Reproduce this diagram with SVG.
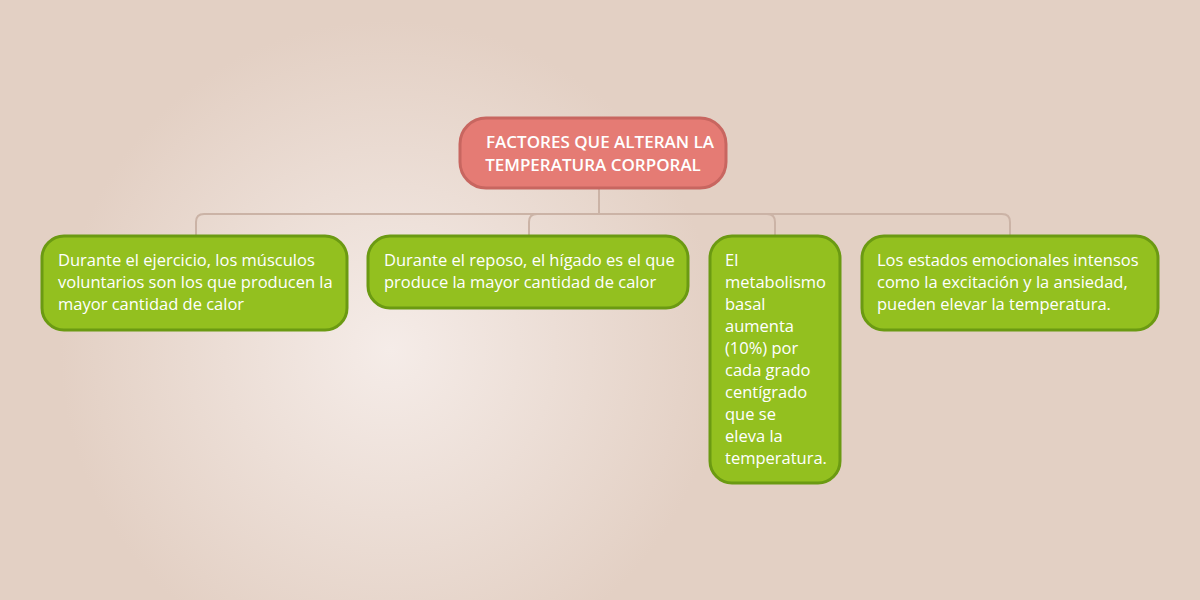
<svg xmlns="http://www.w3.org/2000/svg" width="1200" height="600" viewBox="0 0 1200 600">
<defs>
<radialGradient id="bg" cx="390" cy="350" r="330" gradientUnits="userSpaceOnUse">
<stop offset="0" stop-color="#f5ece8"/><stop offset="1" stop-color="#e3d0c4"/>
</radialGradient>
<style>
.c{fill:#93c01f;stroke:#6b9a12;stroke-width:3}
.t{fill:#fff;font-family:"Open Sans",Lato,sans-serif;font-size:16.5px}
.r{font-weight:600;font-size:17px}
.ln{fill:none;stroke:#cbb3a6;stroke-width:2}
</style>
</defs>
<rect width="1200" height="600" fill="url(#bg)"/>
<g id="connectors" class="ln">
<path d="M599 188V214"/>
<path d="M196 236V222Q196 214 204 214H1002Q1010 214 1010 222V236"/>
<path d="M529 236V222Q529 214 537 214"/>
<path d="M775 236V222Q775 214 767 214"/>
</g>
<g id="root">
<rect x="460" y="118" width="266" height="70" rx="26" fill="#e57b74" stroke="#c86660" stroke-width="3"/>
<text class="t r" x="600" y="148" text-anchor="middle">FACTORES QUE ALTERAN LA</text>
<text class="t r" x="593" y="171" text-anchor="middle">TEMPERATURA CORPORAL</text>
</g>
<g id="n1">
<rect class="c" x="42" y="236" width="305" height="94" rx="22"/>
<text class="t" x="58" y="266">Durante el ejercicio, los músculos</text>
<text class="t" x="58" y="288">voluntarios son los que producen la</text>
<text class="t" x="58" y="310">mayor cantidad de calor</text>
</g>
<g id="n2">
<rect class="c" x="368" y="236" width="320" height="72" rx="22"/>
<text class="t" x="384" y="266">Durante el reposo, el hígado es el que</text>
<text class="t" x="384" y="288">produce la mayor cantidad de calor</text>
</g>
<g id="n3">
<rect class="c" x="710" y="236" width="130" height="247" rx="22"/>
<text class="t" x="725" y="266">El</text>
<text class="t" x="725" y="288">metabolismo</text>
<text class="t" x="725" y="310">basal</text>
<text class="t" x="725" y="332">aumenta</text>
<text class="t" x="725" y="354">(10%) por</text>
<text class="t" x="725" y="376">cada grado</text>
<text class="t" x="725" y="398">centígrado</text>
<text class="t" x="725" y="420">que se</text>
<text class="t" x="725" y="442">eleva la</text>
<text class="t" x="725" y="464">temperatura.</text>
</g>
<g id="n4">
<rect class="c" x="862" y="236" width="296" height="94" rx="22"/>
<text class="t" x="877" y="266">Los estados emocionales intensos</text>
<text class="t" x="877" y="288">como la excitación y la ansiedad,</text>
<text class="t" x="877" y="310">pueden elevar la temperatura.</text>
</g>
</svg>
